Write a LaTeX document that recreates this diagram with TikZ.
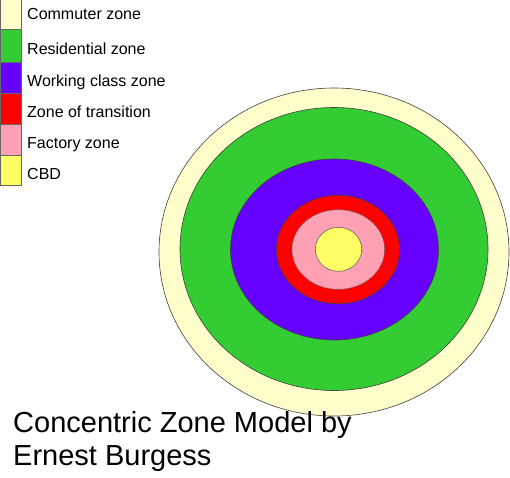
\documentclass[tikz,border=0pt]{standalone}
\usepackage{fontspec}
\setmainfont{Liberation Sans}
\usetikzlibrary{positioning}

\definecolor{commuter}{HTML}{FFFFCC}
\definecolor{residential}{HTML}{33CC33}
\definecolor{working}{HTML}{6600FF}
\definecolor{transition}{HTML}{FF0000}
\definecolor{factory}{HTML}{FFA0B4}
\definecolor{cbd}{HTML}{FFFF66}

\begin{document}
\begin{tikzpicture}[
			x=1pt, y=-1pt,
			swatch/.style={rectangle, draw=black!60, line width=0.8pt, minimum width=21pt, minimum height=31pt, inner sep=0pt, outer sep=0pt},
			zonelabel/.style={font=\fontsize{16}{19}\selectfont, inner sep=0pt, text height=18pt, text depth=0.5pt},
			zone/.style={draw=black!75, line width=0.6pt},
			title/.style={font=\fontsize{29}{33}\selectfont, align=left, inner sep=0pt}
			]
			\useasboundingbox (0,0) rectangle (510,477);
			
			% Zones, from the outside in
			\draw[zone, fill=commuter] (334,252) ellipse [x radius=175, y radius=164];
			\draw[zone, fill=residential] (334,249) ellipse [x radius=154, y radius=141.5];
			\draw[zone, fill=working] (334.5,249.5) ellipse [x radius=104, y radius=90.5];
			\draw[zone, fill=transition] (338,249.5) ellipse [x radius=61.7, y radius=54.3];
			\draw[zone, draw=black!60, dashed, dash pattern=on 2pt off 1pt, fill=factory] (338.3,249.5) ellipse [x radius=46.3, y radius=39.8];
			\draw[zone, draw=black!60, fill=cbd] (338.5,249.3) ellipse [x radius=23.2, y radius=22];
			
			% Legend
			\node[swatch, fill=commuter, minimum height=30.3pt, anchor=north west] (swcom) at (0,-1) {};
			\node[swatch, fill=residential, minimum height=32.7pt, below=0pt of swcom] (swres) {};
			\node[swatch, fill=working, below=0pt of swres] (swwork) {};
			\node[swatch, fill=transition, below=0pt of swwork] (swtrans) {};
			\node[swatch, fill=factory, below=0pt of swtrans] (swfac) {};
			\node[swatch, fill=cbd, minimum height=30.5pt, below=0pt of swfac] (swcbd) {};
			
			\node[zonelabel, right=6pt of swcom, yshift=3pt] (lcom) {Commuter zone};
			\node[zonelabel, right=6pt of swres] (lres) {Residential zone};
			\node[zonelabel, right=6pt of swwork] (lwork) {Working class zone};
			\node[zonelabel, right=6pt of swtrans] (ltrans) {Zone of transition};
			\node[zonelabel, right=6pt of swfac] (lfac) {Factory zone};
			\node[zonelabel, right=6pt of swcbd] (lcbd) {CBD};
			
			% Title
			\node[title, anchor=north west] (caption) at (13,411) {Concentric Zone Model by\\Ernest Burgess};
			
		\end{tikzpicture}
\end{document}
